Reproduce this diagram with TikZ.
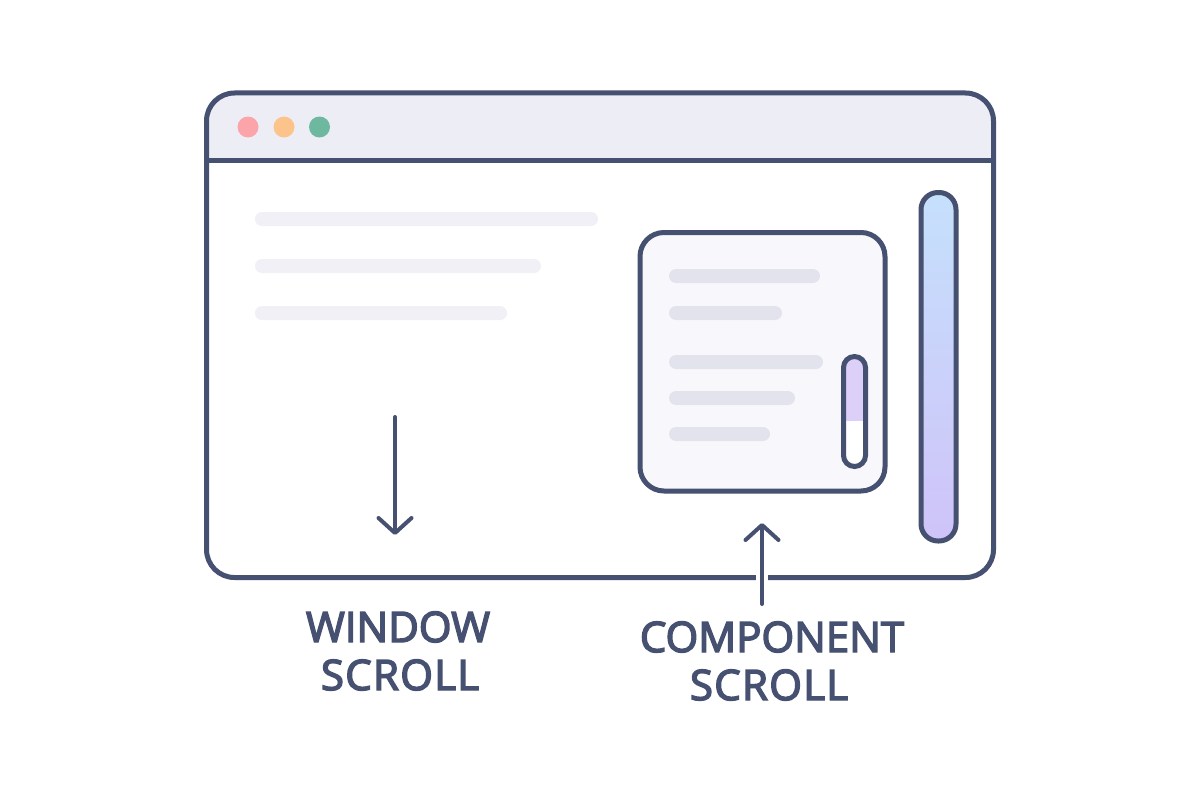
\documentclass[tikz,border=0pt]{standalone}
\usepackage{fontspec}
\setmainfont{Open Sans}[FakeBold=3.5]
\usetikzlibrary{arrows.meta}
\definecolor{ink}{HTML}{465070}
\definecolor{barbg}{HTML}{ECEDF5}
\definecolor{lineA}{HTML}{F0F0F6}
\definecolor{lineB}{HTML}{E2E3EC}
\definecolor{panelbg}{HTML}{F8F8FC}
\definecolor{dotR}{HTML}{FBA5AB}
\definecolor{dotO}{HTML}{FCC48B}
\definecolor{dotG}{HTML}{6FB8A0}
\definecolor{gradT}{HTML}{C5E0FC}
\definecolor{gradB}{HTML}{CFC3F8}
\definecolor{thumb}{HTML}{DCCFF8}
\tikzset{
  x=1pt,y=-1pt,
  frame/.style={draw=ink,line width=5pt},
  pill/.style={line width=0pt,rounded corners=7pt},
  dotc/.style={circle,minimum size=21pt,inner sep=0pt},
  label/.style={text=ink,font=\fontsize{42}{50}\selectfont,inner sep=0pt,anchor=base,align=center},
  spaced/.style={label,font=\fontsize{42}{50}\selectfont\addfontfeature{LetterSpace=3}},
  scrollarrow/.style={draw=ink,line width=4pt,line cap=round,-{Straight Barb[length=15pt,width=33pt,round]}},
  halo/.style={draw=white,line width=12pt},
}
\begin{document}
\begin{tikzpicture}
\useasboundingbox (0,0) rectangle (1200,800);
\fill[white] (0,0) rectangle (1200,800);
% window
\fill[white,rounded corners=28pt] (206.5,93) rectangle (993.5,577.5);
\begin{scope}
\clip[rounded corners=28pt] (206.5,93) rectangle (993.5,577.5);
\fill[barbg] (206,93) rectangle (994,160);
\end{scope}
\draw[frame,rounded corners=28pt] (206.5,93) rectangle (993.5,577.5);
\draw[frame] (206.5,160) -- (993.5,160);
\node[dotc,fill=dotR] (dr) at (248,127) {};
\node[dotc,fill=dotO] (do) at (284,127) {};
\node[dotc,fill=dotG] (dg) at (319.5,127) {};
% page lines
\fill[lineA,pill] (255,212) rectangle (598,226);
\fill[lineA,pill] (255,259) rectangle (541,273);
\fill[lineA,pill] (255,306) rectangle (507,320);
% component panel
\draw[frame,fill=panelbg,rounded corners=24pt] (640,232.5) rectangle (885,491);
\fill[lineB,pill] (669,269) rectangle (820,283);
\fill[lineB,pill] (669,306) rectangle (782,320);
\fill[lineB,pill] (669,355) rectangle (823,369);
\fill[lineB,pill] (669,391) rectangle (795,405);
\fill[lineB,pill] (669,427) rectangle (770,441);
% small scrollbar
\begin{scope}
\clip[rounded corners=11pt] (843.5,356.5) rectangle (865.5,466.5);
\fill[white] (843,356) rectangle (866,467);
\fill[thumb] (843,356) rectangle (866,421);
\end{scope}
\draw[frame,rounded corners=11pt] (843.5,356.5) rectangle (865.5,466.5);
% big scrollbar
\begin{scope}
\clip[rounded corners=17pt] (921,192.5) rectangle (956,541);
\shade[top color=gradT,bottom color=gradB] (920,192) rectangle (957,542);
\end{scope}
\draw[frame,rounded corners=17pt] (921,192.5) rectangle (956,541);
% arrows
\coordinate (wa) at (395,417);
\coordinate (wb) at (395,535);
\coordinate (ca) at (762,604);
\coordinate (cb) at (762,523);
\coordinate (ha) at (762,572);
\coordinate (hb) at (762,583);
\draw[halo] (ha) -- (hb);
\draw[scrollarrow] (wa) -- (wb);
\draw[scrollarrow] (ca) -- (cb);
% labels
\node[label] (w1) at (398,642) {WINDOW};
\node[spaced] (w2) at (400,690) {SCROLL};
\node[label] (c1) at (772,652) {COMPONENT};
\node[spaced] (c2) at (769,700) {SCROLL};
\end{tikzpicture}
\end{document}
